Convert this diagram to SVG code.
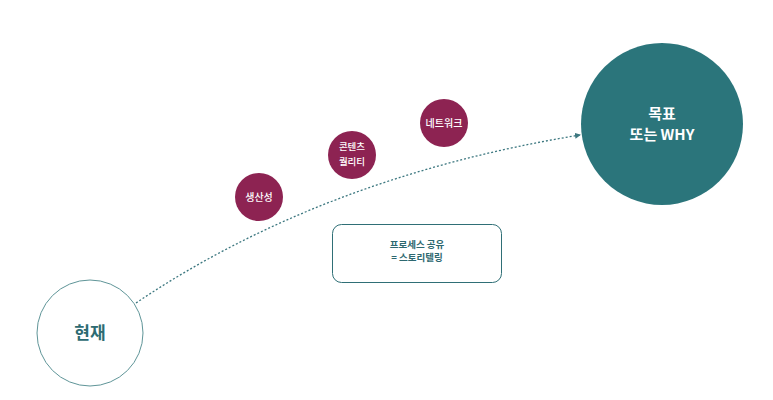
<svg xmlns="http://www.w3.org/2000/svg" width="773" height="400" viewBox="0 0 773 400">
<style>
.kr{font-family:"Noto Sans CJK KR","Noto Sans",sans-serif;}
.mag{fill:#8d2352;}
.mt{fill:#ffffff;font-size:10px;font-weight:500;text-anchor:middle;}
</style>
<defs>
<marker id="ah" markerWidth="6" markerHeight="6" refX="5" refY="3" orient="auto" markerUnits="userSpaceOnUse">
<path d="M0,0 L6,3 L0,6 Z" fill="#3d7880"/>
</marker>
</defs>
<rect width="773" height="400" fill="#ffffff"/>
<g id="connectors">
<path d="M136,303 Q323,177 580,135" fill="none" stroke="#3d7880" stroke-width="1.3" stroke-dasharray="2,2" marker-end="url(#ah)"/>
</g>
<g id="now">
<circle cx="90" cy="333" r="53" fill="#ffffff" stroke="#5f9598" stroke-width="1"/>
<text x="90" y="339" class="kr" font-size="17" font-weight="700" fill="#2d6b72" text-anchor="middle">현재</text>
</g>
<g id="goal">
<circle cx="662" cy="124" r="81" fill="#2b757b"/>
<text x="662" y="119" class="kr" font-size="15" font-weight="700" fill="#ffffff" text-anchor="middle">목표</text>
<text x="662" y="140" class="kr" font-size="15" font-weight="700" fill="#ffffff" text-anchor="middle">또는 WHY</text>
</g>
<g id="productivity">
<circle cx="259" cy="197" r="24" class="mag"/>
<text x="259" y="200.5" class="kr mt">생산성</text>
</g>
<g id="content">
<circle cx="352" cy="155" r="24" class="mag"/>
<text x="352" y="150" class="kr mt" style="font-size:9.5px">콘텐츠</text>
<text x="352" y="165" class="kr mt" style="font-size:9.5px">퀄리티</text>
</g>
<g id="network">
<circle cx="444" cy="123" r="24" class="mag"/>
<text x="444" y="126.5" class="kr mt">네트워크</text>
</g>
<g id="process">
<rect x="332.5" y="224.5" width="169" height="58" rx="9" fill="#ffffff" stroke="#2f6f76" stroke-width="1"/>
<text x="417" y="248" class="kr" font-size="9.5" font-weight="700" fill="#2d6870" text-anchor="middle">프로세스 공유</text>
<text x="417" y="261" class="kr" font-size="9.5" font-weight="700" fill="#2d6870" text-anchor="middle">= 스토리텔링</text>
</g>
</svg>
